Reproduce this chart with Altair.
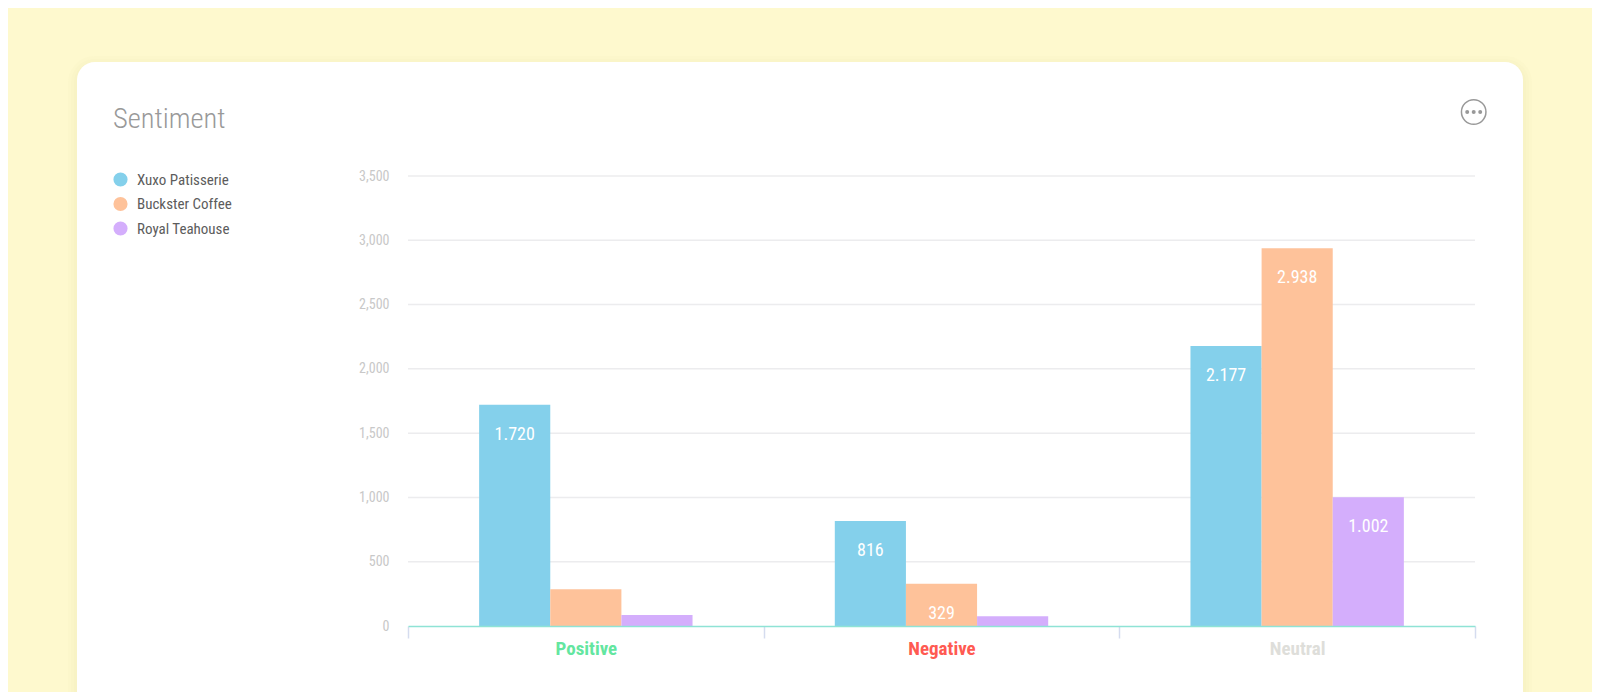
import altair as alt
import pandas as pd

categories = ["Positive", "Negative", "Neutral"]
series = ["Xuxo Patisserie", "Buckster Coffee", "Royal Teahouse"]
xuxo = [1720, 816, 2177]
buckster = [286, 329, 2938]
royal = [85, 75, 1002]
labels_xuxo = ["1.720", "816", "2.177"]
labels_buckster = ["", "329", "2.938"]
labels_royal = ["", "", "1.002"]
y_ticks = [0, 500, 1000, 1500, 2000, 2500, 3000, 3500]
series_colors = ["#84D0EB", "#FEC29A", "#D4AEFC"]
FONT = "Roboto Condensed, Liberation Sans Narrow, Roboto"

rows = []
for s, vals, labs in zip(series, [xuxo, buckster, royal], [labels_xuxo, labels_buckster, labels_royal]):
    for c, v, l in zip(categories, vals, labs):
        rows.append({"category": c, "series": s, "value": v, "label": l})
df = pd.DataFrame(rows)

W, H = 1067, 450
x_enc = alt.X("category:N", sort=categories, title=None,
              scale=alt.Scale(domain=categories, paddingInner=0, paddingOuter=0),
              axis=alt.Axis(
                  labelAngle=0, labelFont=FONT, labelFontSize=19, labelFontWeight="bold",
                  labelPadding=1,
                  labelColor=alt.expr("datum.value === 'Positive' ? '#63E6A0' : datum.value === 'Negative' ? '#FF5A52' : '#DEDEDA'"),
                  domainColor="#8FE3D5", domainWidth=1.5,
                  tickColor="#D5DCEF", tickSize=12, tickWidth=1.5, tickBand="extent",
                  zindex=1))
y_scale = alt.Scale(domain=[0, 3500], nice=False)
y_axis = alt.Axis(values=y_ticks, grid=False, domain=False, ticks=False,
                  labelFont=FONT, labelFontSize=14, labelColor="#C8C8C8",
                  labelPadding=19, zindex=1)
y_enc = alt.Y("value:Q", scale=y_scale, title=None, axis=y_axis)
xo = alt.XOffset("series:N", sort=series,
                 scale=alt.Scale(domain=series, paddingOuter=1, paddingInner=0))

shadow = [
    alt.Chart(pd.DataFrame({"k": [d]})).mark_rect(
        cornerRadius=18 + d, color="#C9BE8A", opacity=0.03
    ).encode(x=alt.value(-331 - d), x2=alt.value(1115 + d),
             y=alt.value(-114 - d + 3), y2=alt.value(700))
    for d in [9, 6, 3]
]
card = alt.Chart(pd.DataFrame({"k": [0]})).mark_rect(
    cornerRadius=18, color="#FFFFFF"
).encode(x=alt.value(-331), x2=alt.value(1115), y=alt.value(-114), y2=alt.value(700))

grid = alt.Chart(pd.DataFrame({"value": y_ticks[1:]})).mark_rule(
    color="#ECECEE", strokeWidth=1.5
).encode(y=y_enc)

bars = alt.Chart(df).mark_bar().encode(
    x=x_enc, xOffset=xo, y=y_enc,
    color=alt.Color("series:N", sort=series,
                    scale=alt.Scale(domain=series, range=series_colors),
                    legend=alt.Legend(
                        title=None, orient="none", legendX=-295, legendY=-4,
                        symbolType="circle", symbolSize=200, symbolStrokeWidth=0,
                        labelFont=FONT, labelFontSize=15, labelColor="#5C5C5C",
                        labelOffset=9, rowPadding=8.5)),
)

text = alt.Chart(df).transform_filter("datum.label !== ''").mark_text(
    color="white", font=FONT, fontSize=18, dy=30, baseline="middle", align="center"
).encode(x=x_enc, xOffset=xo, y=y_enc, text="label:N")

title = alt.Chart(pd.DataFrame({"t": ["Sentiment"]})).mark_text(
    font=FONT, fontSize=28.5, fontWeight=300, color="#999999", align="left", baseline="middle"
).encode(x=alt.value(113 - 408), y=alt.value(119 - 176), text="t:N")

ring = alt.Chart(pd.DataFrame({"k": [0]})).mark_point(
    shape="circle", filled=False, size=600, color="#999999", strokeWidth=1.5, opacity=1
).encode(x=alt.value(1473.7 - 408), y=alt.value(112 - 176))
dots = [
    alt.Chart(pd.DataFrame({"k": [dx]})).mark_point(
        shape="circle", filled=True, size=16, color="#999999", opacity=1
    ).encode(x=alt.value(1473.7 - 408 + dx), y=alt.value(112 - 176))
    for dx in [-6.5, 0, 6.5]
]

chart = alt.layer(*shadow, card, grid, bars, text, title, ring, *dots).properties(
    width=W, height=H, background="#FEF9CE",
    autosize=alt.AutoSizeParams(type="none"),
    padding={"left": 400, "top": 168, "right": 117, "bottom": 66},
).configure_view(stroke=None)

chart.save("out.html", embed_options={"renderer": "svg", "actions": False})
